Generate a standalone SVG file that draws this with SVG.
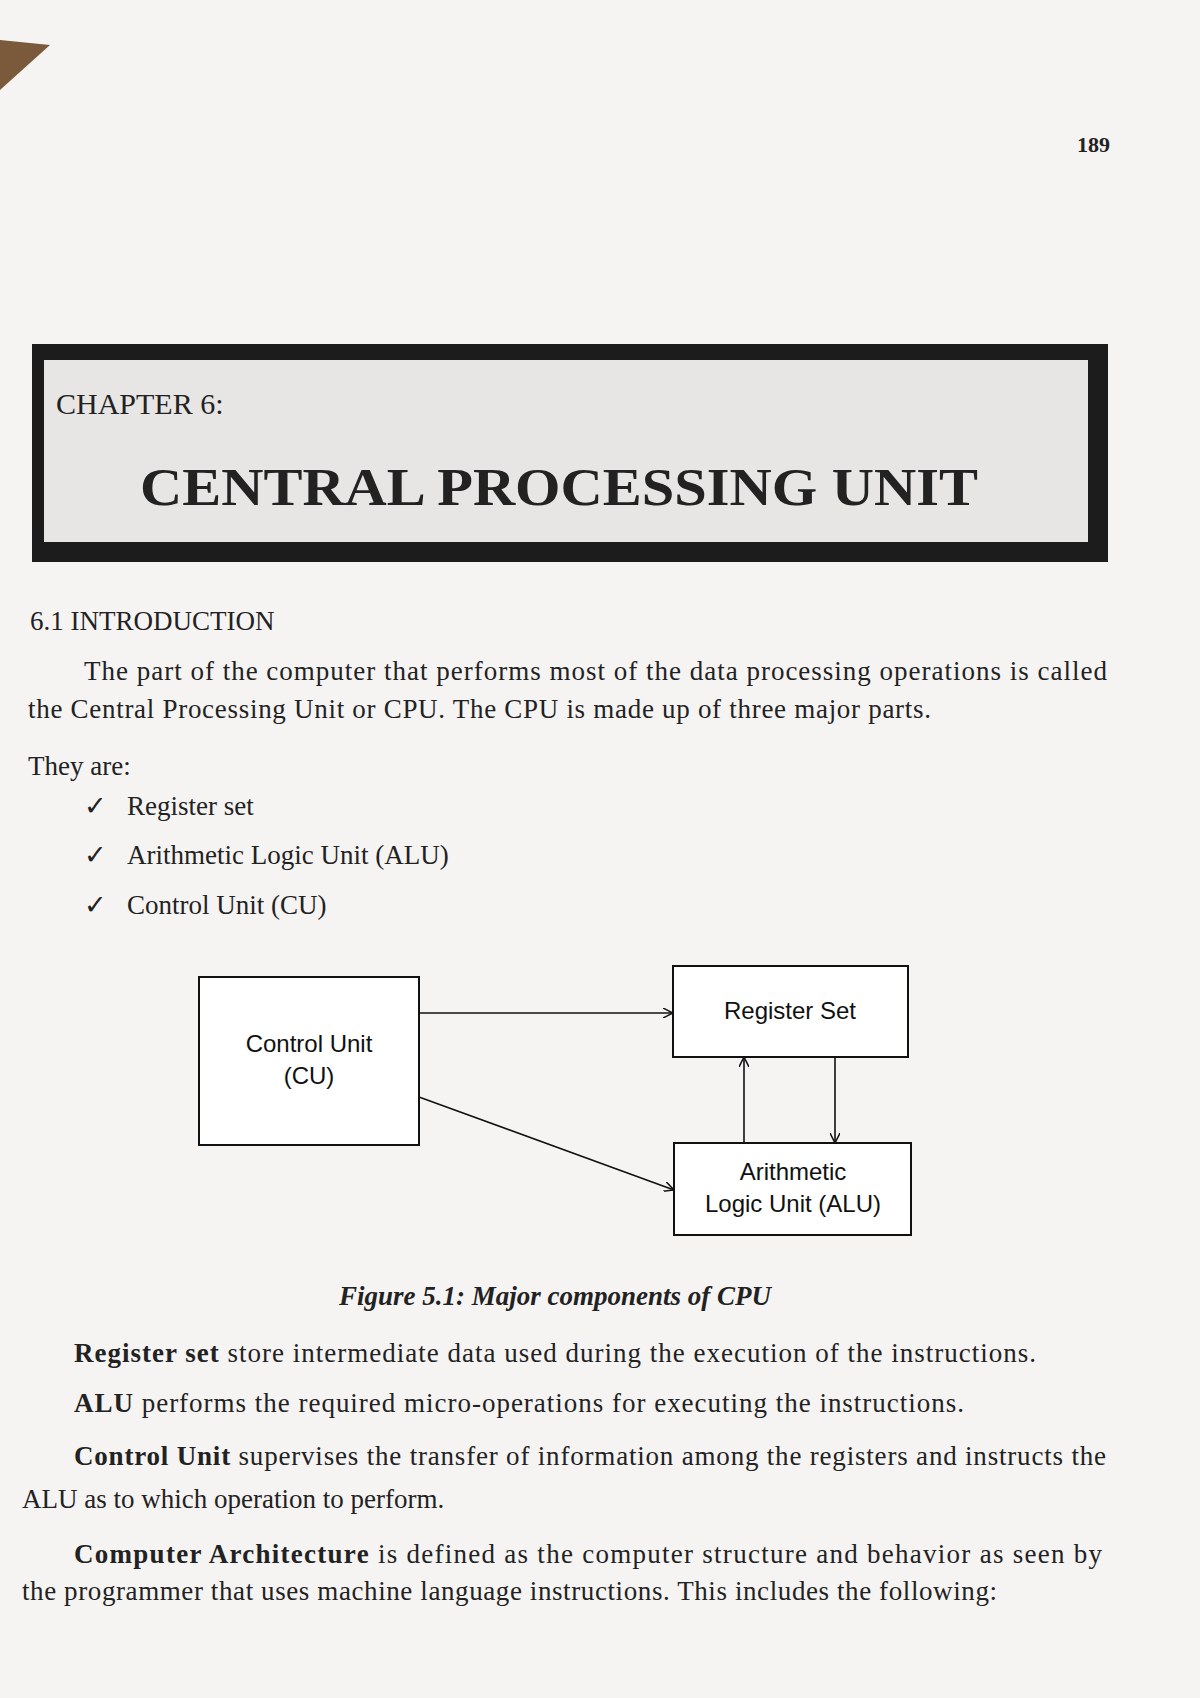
<svg xmlns="http://www.w3.org/2000/svg" width="1200" height="1698" viewBox="0 0 1200 1698">
<defs>
<style>
.t{font-family:"Liberation Serif",serif;fill:#222}
.s{font-family:"Liberation Sans",Arial,sans-serif;fill:#111;font-size:24px;text-anchor:middle}
.b{fill:#fff;stroke:#111;stroke-width:2}
.c{stroke:#111;stroke-width:1.6;fill:none;marker-end:url(#a)}
</style>
<marker id="a" viewBox="0 0 10 10" refX="10" refY="5" markerWidth="10" markerHeight="10" orient="auto" markerUnits="userSpaceOnUse"><path d="M0,0 L10,5 L0,10" fill="none" stroke="#111" stroke-width="1.5"/></marker>
</defs>
<rect width="1200" height="1698" fill="#f6f4f3"/>
<path d="M0,40 L50,45 L0,90 Z" fill="#7a5a3a"/>
<text x="1110" y="152" class="t" font-weight="bold" text-anchor="end" font-size="22">189</text>
<rect x="32" y="344" width="1076" height="218" fill="#1c1c1c"/>
<rect x="44" y="360" width="1044" height="182" fill="#e8e6e4"/>
<text x="56" y="414" class="t" font-size="30">CHAPTER 6:</text>
<text x="140" y="505" class="t" font-size="52" font-weight="bold" textLength="838" lengthAdjust="spacingAndGlyphs">CENTRAL PROCESSING UNIT</text>
<text x="30" y="630" class="t" font-size="27">6.1  INTRODUCTION</text>
<g font-size="27">
<text x="84" y="680" class="t" textLength="1023">The part of the computer that performs most of the data processing operations is called</text>
<text x="28" y="718" class="t" textLength="903">the Central Processing Unit or CPU. The CPU is made up of three major parts.</text>
<text x="28" y="775" class="t">They are:</text>
<text x="84" y="815" class="t">✓</text><text x="127" y="815" class="t">Register set</text>
<text x="84" y="864" class="t">✓</text><text x="127" y="864" class="t">Arithmetic Logic Unit (ALU)</text>
<text x="84" y="914" class="t">✓</text><text x="127" y="914" class="t">Control Unit (CU)</text>
</g>
<g id="cu"><rect class="b" x="199" y="977" width="220" height="168"/><text class="s" x="309" y="1052">Control Unit</text><text class="s" x="309" y="1084">(CU)</text></g>
<g id="rs"><rect class="b" x="673" y="966" width="235" height="91"/><text class="s" x="790" y="1019">Register Set</text></g>
<g id="alu"><rect class="b" x="674" y="1143" width="237" height="92"/><text class="s" x="793" y="1180">Arithmetic</text><text class="s" x="793" y="1212">Logic Unit (ALU)</text></g>
<g id="connectors">
<line class="c" x1="419" y1="1013" x2="673" y2="1013"/>
<line class="c" x1="419" y1="1097" x2="674" y2="1190"/>
<line class="c" x1="744" y1="1143" x2="744" y2="1057"/>
<line class="c" x1="835" y1="1057" x2="835" y2="1143"/>
</g>
<text x="555" y="1305" class="t" font-size="27" font-style="italic" font-weight="bold" text-anchor="middle">Figure 5.1: Major components of CPU</text>
<g font-size="27">
<text x="74" y="1362" class="t" textLength="962"><tspan font-weight="bold">Register set</tspan> store intermediate data used during the execution of the instructions.</text>
<text x="74" y="1412" class="t" textLength="890"><tspan font-weight="bold">ALU</tspan> performs the required micro-operations for executing the instructions.</text>
<text x="74" y="1465" class="t" textLength="1032"><tspan font-weight="bold">Control Unit</tspan> supervises the transfer of information among the registers and instructs the</text>
<text x="22" y="1508" class="t">ALU as to which operation to perform.</text>
<text x="74" y="1563" class="t" textLength="1028"><tspan font-weight="bold">Computer Architecture</tspan> is defined as the computer structure and behavior as seen by</text>
<text x="22" y="1600" class="t" textLength="975">the programmer that uses machine language instructions. This includes the following:</text>
</g>
</svg>
